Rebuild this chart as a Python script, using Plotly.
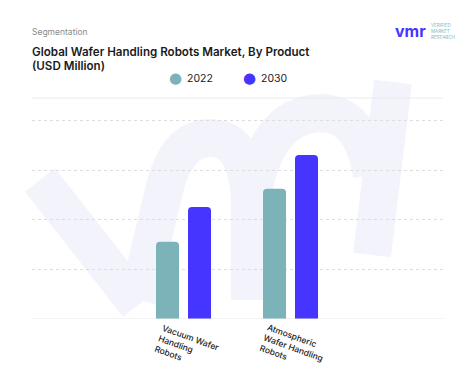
import plotly.graph_objects as go

categories = ["Vacuum Wafer<br>Handling<br>Robots", "Atmospheric<br>Wafer Handling<br>Robots"]
years = ["2022", "2030"]
values_2022 = [1.56, 2.63]
values_2030 = [2.26, 3.31]
colors = {"2022": "#7BB3B8", "2030": "#4634FF"}

FONT = "Inter"
# page offset: browser body margin is 8px, so the figure is shrunk by 8px
W, H = 466, 373
PL, PT, PR, PB = 32, 98, 443, 319  # plot area in page px


def px(xp):
    return (xp - PL) / (PR - PL)


def py(yp):
    return (PB - yp) / (PB - PT)


fig = go.Figure()
xpos = list(range(len(categories)))
for yr, vals, off in [("2022", values_2022, -0.257), ("2030", values_2030, 0.042)]:
    fig.add_trace(go.Bar(x=xpos, y=vals, width=0.215, offset=off, name=yr,
                         marker=dict(color=colors[yr], line=dict(width=0)),
                         showlegend=False, hoverinfo="skip"))

for i, c in enumerate(categories):
    fig.add_annotation(x=i, y=0, xref="x", yref="y", text=c, showarrow=False,
                       textangle=20, align="left", xanchor="center", yanchor="middle",
                       yshift=-29, xshift=3,
                       font=dict(family=FONT, size=8.5, weight=500, color="#222222"))

# watermark (decorative background)
def wm_path(pts_cmds):
    out = []
    for cmd in pts_cmds:
        if isinstance(cmd, str):
            out.append(cmd)
        else:
            out.append(f"{px(cmd[0]):.4f},{py(cmd[1]):.4f}")
    return " ".join(out)

wm = wm_path(["M", (40, 180), "L", (138, 305),
              "M", (138, 300), "L", (163, 195), "Q", (175, 138), (210, 138),
              "Q", (247, 138), (250, 200), "L", (250, 300),
              "M", (250, 210), "Q", (262, 115), (320, 113), "Q", (362, 113), (372, 175),
              "M", (372, 255), "L", (393, 82)])

fig.update_layout(
    width=W, height=H,
    margin=dict(l=PL - 8, r=W + 8 - PR, t=PT - 8, b=H + 8 - PB, autoexpand=False),
    paper_bgcolor="white", plot_bgcolor="white",
    barmode="overlay", barcornerradius=4,
    font=dict(family=FONT),
    showlegend=False,
    xaxis=dict(range=[-1.416, 2.425], showticklabels=False, showgrid=False,
               zeroline=False, showline=False, fixedrange=True),
    yaxis=dict(range=[0, 4.46], showticklabels=False, showgrid=True,
               gridcolor="#DDDDDD", griddash="dot", gridwidth=1, dtick=1,
               zeroline=False, showline=False),
    shapes=[
        dict(type="path", xref="paper", yref="paper", path=wm, layer="below",
             line=dict(color="#F3F3FC", width=38)),
        dict(type="line", xref="paper", yref="paper", x0=0, x1=1, y0=1, y1=1,
             line=dict(color="#EAEAEA", width=1)),
        dict(type="line", xref="paper", yref="y", x0=0, x1=1, y0=0, y1=0,
             line=dict(color="#E6E6E6", width=1)),
    ],
)

# legend
for yr, cx in [("2022", 175), ("2030", 249)]:
    fig.add_annotation(text="●", xref="paper", yref="paper", x=px(cx), y=py(78),
                       xanchor="center", yanchor="middle", showarrow=False,
                       font=dict(family="DejaVu Sans", size=15, color=colors[yr]))
    fig.add_annotation(text=yr, xref="paper", yref="paper", x=px(cx + 10), y=py(78),
                       xanchor="left", yanchor="middle", showarrow=False,
                       font=dict(family=FONT, size=10.5, color="#222222"))

fig.add_annotation(text="Segmentation", xref="paper", yref="paper", x=px(30), y=py(32),
                   xanchor="left", yanchor="middle", showarrow=False,
                   font=dict(family=FONT, size=8.5, color="#8A8A8A"))
fig.add_annotation(text="Global Wafer Handling Robots Market, By Product",
                   xref="paper", yref="paper", x=px(30), y=py(51.5), xanchor="left",
                   yanchor="middle", showarrow=False,
                   font=dict(family=FONT, size=11.6, weight=600, color="#1A1A1A"))
fig.add_annotation(text="(USD Million)",
                   xref="paper", yref="paper", x=px(30), y=py(65.5), xanchor="left",
                   yanchor="middle", showarrow=False,
                   font=dict(family=FONT, size=11.6, weight=600, color="#1A1A1A"))
fig.add_annotation(text="<b>vmr</b>", xref="paper", yref="paper", x=px(410), y=py(31),
                   xanchor="center", yanchor="middle", showarrow=False,
                   font=dict(family=FONT, size=16, color="#4634FF"))
fig.add_annotation(text="VERIFIED<br>MARKET<br>RESEARCH", xref="paper", yref="paper",
                   x=px(429), y=py(32), xanchor="left", yanchor="middle", showarrow=False,
                   align="left", font=dict(family=FONT, size=4.5, color="#7FB8C0"))

fig.write_html("out.html")
